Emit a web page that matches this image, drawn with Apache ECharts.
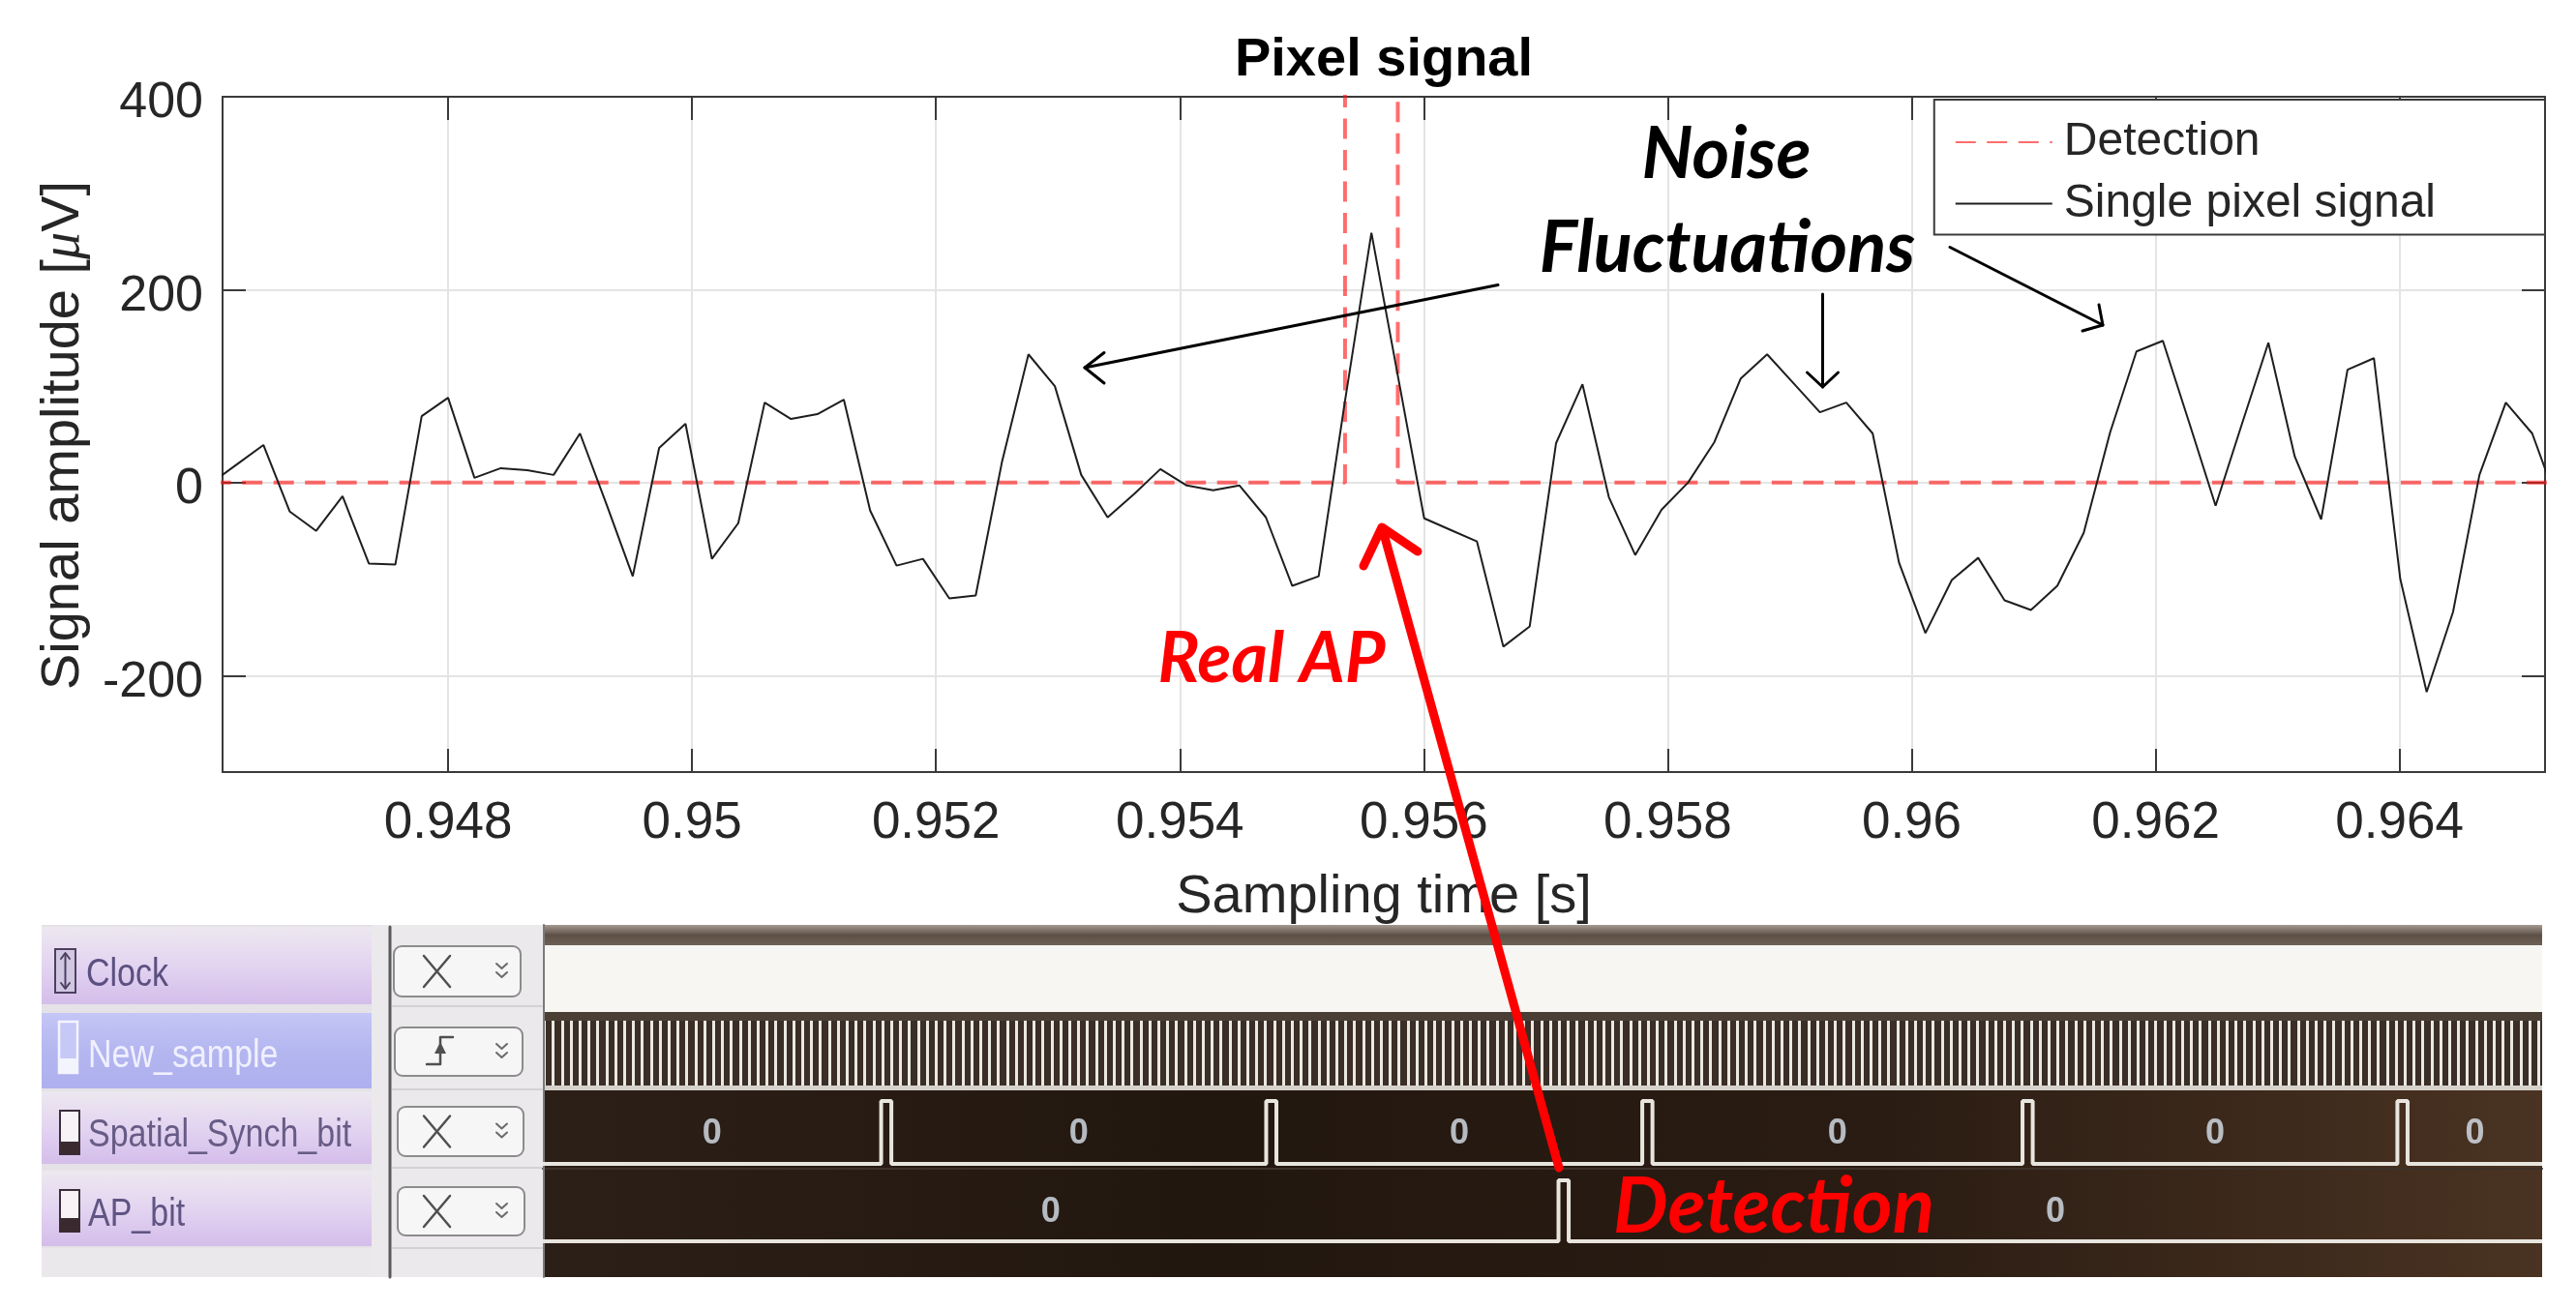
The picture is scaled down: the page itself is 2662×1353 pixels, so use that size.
<!DOCTYPE html>
<html><head><meta charset="utf-8">
<script src="https://cdn.jsdelivr.net/npm/echarts@6.0.0/dist/echarts.min.js"></script>
<style>html,body{margin:0;padding:0;background:#fff;overflow:hidden}#chart{width:2662px;height:1353px}</style>
</head><body><div id="chart"></div>
<script>
// ---------------- DATA ----------------
const xMin = 0.946151, xMax = 0.965193;   // visible sampling-time window [s]
const yMin = -300, yMax = 400;            // amplitude window [uV]
const sampleTimes = [
  0.9460533, 0.9462696, 0.9464859, 0.9467022, 0.9469185, 0.9471348, 0.9473511, 0.9475674, 0.9477837,
  0.948, 0.9482163, 0.9484326, 0.9486489, 0.9488652, 0.9490815, 0.9492978, 0.9495141, 0.9497304, 0.9499467,
  0.950163, 0.9503793, 0.9505956, 0.9508119, 0.9510282, 0.9512445, 0.9514608, 0.9516771, 0.9518934, 0.9521097,
  0.952326, 0.9525423, 0.9527586, 0.9529749, 0.9531912, 0.9534075, 0.9536238, 0.9538401, 0.9540564, 0.9542727,
  0.954489, 0.9547053, 0.9549216, 0.9551379, 0.9553542, 0.9555705, 0.9557868, 0.9560031, 0.9562194, 0.9564357,
  0.956652, 0.9568683, 0.9570846, 0.9573009, 0.9575172, 0.9577335, 0.9579498, 0.9581661, 0.9583824, 0.9585987,
  0.958815, 0.9590313, 0.9592476, 0.9594639, 0.9596802, 0.9598965, 0.9601128, 0.9603291, 0.9605454, 0.9607617,
  0.960978, 0.9611943, 0.9614106, 0.9616269, 0.9618432, 0.9620595, 0.9622758, 0.9624921, 0.9627084, 0.9629247,
  0.963141, 0.9633573, 0.9635736, 0.9637899, 0.9640062, 0.9642225, 0.9644388, 0.9646551, 0.9648714, 0.9650877, 0.965304
];
const pixelSignal = [
  -1, 19, 39, -30, -50, -14, -84, -85, 69,
  88, 5, 15, 13, 8, 51, -22, -97, 36, 61,
  -79, -42, 83, 66, 71, 86, -29, -86, -79, -120,
  -117, 22, 133, 100, 8, -36, -12, 14, -3, -8,
  -3, -36, -107, -97, 85, 259, 111, -37, -49, -61,
  -170, -149, 41, 102, -15, -75, -28, 0, 42, 108,
  133, 103, 73, 83, 51, -83, -156, -101, -78, -122,
  -132, -107, -52, 52, 136, 147, 62, -24, 61, 145,
  27, -38, 117, 129, -100, -217, -134, 8, 83, 51, -24
];
const detectionTimes = [0.9460533, 0.9553542, 0.9553542, 0.9557868, 0.9557868, 0.965304];
const detectionLevel = [0, 0, 1000, 1000, 0, 0];
const legendNames = ['Detection', 'Single pixel signal'];

// logic analyser capture (time in % of the displayed capture window)
const laWindow = [0, 100];
const synchPulseStarts = [16.92, 36.18, 54.99, 74.01, 92.76];
const apPulseStarts = [50.80];
const pulseWidth = 0.51;
const idleBit = '0';
const traceNames = ['Clock', 'New_sample', 'Spatial_Synch_bit', 'AP_bit'];

// ---------------- BUILD ----------------
const FONT = "'Liberation Sans', Arial, sans-serif";
const AX = '#3a3a3a';
const signalPairs = sampleTimes.map((t, i) => [t, pixelSignal[i]]);
const detectionPairs = detectionTimes.map((t, i) => [t, detectionLevel[i]]);

function pulseTrain(starts) {
  const pts = [[laWindow[0], 0]];
  starts.forEach(p => { pts.push([p, 0], [p, 1], [p + pulseWidth, 1], [p + pulseWidth, 0]); });
  pts.push([laWindow[1], 0]);
  return pts;
}
function bitLabels(starts) {
  const edges = [laWindow[0]];
  starts.forEach(p => edges.push(p, p + pulseWidth));
  edges.push(laWindow[1]);
  const out = [];
  for (let i = 0; i < edges.length; i += 2) out.push({ value: [(edges[i] + edges[i + 1]) / 2, 0.47], name: idleBit });
  return out;
}

const chart = echarts.init(document.getElementById('chart'));

// stripe texture for the dense New_sample strobe
const pc = document.createElement('canvas');
pc.width = 92; pc.height = 4;
const pctx = pc.getContext('2d');
pctx.fillStyle = '#3a2e26'; pctx.fillRect(0, 0, 92, 4);
pctx.fillStyle = '#ebe8e2';
for (let i = 0; i < 10; i++) pctx.fillRect(Math.round(i * 9.2), 0, 3, 4);

const lg = (stops, horiz) => new echarts.graphic.LinearGradient(0, 0, horiz ? 1 : 0, horiz ? 0 : 1,
  stops.map((c, i) => ({ offset: i / (stops.length - 1), color: c })));

const G = [];
function rect(x, y, w, h, fill, z, stroke, lw, r) {
  const st = { fill: fill };
  if (stroke) { st.stroke = stroke; st.lineWidth = lw || 1; }
  const sh = { x: x, y: y, width: w, height: h };
  if (r) sh.r = r;
  G.push({ type: 'rect', shape: sh, style: st, z: z == null ? 0 : z, silent: true });
}
function poly(points, stroke, lw, z) {
  G.push({ type: 'polyline', shape: { points: points }, style: { stroke: stroke, lineWidth: lw, fill: null, lineCap: 'round', lineJoin: 'round' }, z: z == null ? 1 : z, silent: true });
}
function text(x, y, str, opt) {
  const st = Object.assign({ text: str, fontFamily: FONT, fill: '#000', align: 'center', verticalAlign: 'middle', textAlign: 'center', textVerticalAlign: 'middle' }, opt.style || {});
  G.push({ type: 'text', x: x, y: y, rotation: opt.rotation || 0, scaleX: opt.scaleX || 1, style: st, z: opt.z == null ? 100 : opt.z, silent: true });
}

// ---- logic analyser panel backgrounds ----
const purple = () => lg(['#ece8ef', '#e3d4f1', '#d4bdea']);
rect(43, 956, 341, 364, '#e5e2e7');
rect(43, 958, 341, 80, purple());
rect(43, 1047, 341, 78, lg(['#c4c6f6', '#b4b6f0', '#aeb0ee']));
rect(43, 1128, 341, 75, purple());
rect(43, 1210, 341, 78, purple());
rect(43, 1290, 341, 30, '#ebe8ec');
rect(384, 956, 177, 364, '#ebe9ec');
poly([[403, 958], [403, 1320]], '#5a5a5a', 3, 1);
[1040, 1126, 1207, 1290].forEach(y => poly([[406, y], [560, y]], '#d3d1d5', 2, 1));
// buttons
const btns = [[407, 978, 131, 52], [408, 1062, 132, 50], [411, 1144, 130, 51], [411, 1227, 131, 50]];
btns.forEach(b => rect(b[0], b[1], b[2], b[3], '#f6f6f6', 1, '#8c8c8c', 2, 8));
[1004, 1169.5, 1252].forEach(cy => {
  poly([[438, cy - 16], [465, cy + 16]], '#505050', 2.5, 2);
  poly([[465, cy - 16], [438, cy + 16]], '#505050', 2.5, 2);
});
poly([[441, 1100], [455, 1100], [455, 1072], [468, 1072]], '#505050', 2.5, 2);
G.push({ type: 'polygon', shape: { points: [[455, 1077], [449, 1089], [461, 1089]] }, style: { fill: '#505050' }, z: 2, silent: true });
[1004, 1087, 1169.5, 1252].forEach(cy => {
  poly([[513, cy - 8], [518.5, cy - 3], [524, cy - 8]], '#6a6a6a', 2, 2);
  poly([[513, cy + 1], [518.5, cy + 6], [524, cy + 1]], '#6a6a6a', 2, 2);
});
// trace icons
rect(57, 981, 21, 45, '#d2c7e3', 1, '#4b4060', 2);
poly([[67.5, 986], [67.5, 1021]], '#4b4060', 2, 2);
poly([[63, 991], [67.5, 985], [72, 991]], '#4b4060', 2, 2);
poly([[63, 1016], [67.5, 1022], [72, 1016]], '#4b4060', 2, 2);
rect(61, 1056, 19, 53, '#c6c8f6', 1, '#f4f4ff', 2.5);
rect(61, 1094, 19, 15, '#f4f4ff', 1);
rect(62, 1148, 20, 45, '#f6f2f6', 1, '#3a2e3a', 2);
rect(62, 1180, 20, 13, '#3a2a30', 1);
rect(62, 1230, 20, 43, '#f6f2f6', 1, '#3a2e3a', 2);
rect(62, 1259, 20, 14, '#3a2a30', 1);
// trace names
const nameCols = ['#5b5080', '#f0f0ff', '#675c86', '#5f5582'];
const nameY = [1008, 1092, 1174, 1255.5];
traceNames.forEach((n, i) => text(89 + (i ? 2 : 0), nameY[i], n, {
  scaleX: 0.85, z: 3, style: { fontSize: 40, fill: nameCols[i], align: 'left', textAlign: 'left' }
}));
// waveform window
rect(561, 956, 2066, 21, lg(['#a59a90', '#5e5046', '#6e6054']));
rect(561, 977, 2066, 69, '#f7f6f3');
rect(561, 1046, 2066, 9, '#4a3e35');
rect(561, 1055, 2066, 67, { image: pc, repeat: 'repeat' });
rect(561, 1122, 2066, 5, '#d6d2cb');
rect(561, 1127, 2066, 193, lg(['#2c1f17', '#22170f', '#2a1c13', '#4a3322'], true));
poly([[561, 1208], [2627, 1208]], '#3e322a', 2, 1);
poly([[562, 956], [562, 1320]], '#7a7a7a', 2, 1);

// ---- plot texts and annotations ----
text(1430, 63, 'Pixel signal', { style: { fontSize: 56, fontWeight: 'bold', fill: '#000' } });
text(1430, 928, 'Sampling time [s]', { style: { fontSize: 56, fill: '#262626' } });
text(66, 450, '{a|Signal amplitude [}{b|\u03bc}{a|V]}', {
  rotation: Math.PI / 2,
  style: { fontSize: 56, fill: '#262626', rich: { a: { fontSize: 56, fontFamily: FONT, fill: '#262626' }, b: { fontSize: 56, fontStyle: 'italic', fontFamily: "'Liberation Serif', serif", fill: '#262626' } } }
});
const ANN = "Lato, 'Open Sans', sans-serif";
text(1784, 160, 'Noise', { style: { fontSize: 74, fontWeight: 'bold', fontStyle: 'italic', fontFamily: ANN, fill: '#000' } });
text(1785, 257, 'Fluctuations', { style: { fontSize: 74, fontWeight: 'bold', fontStyle: 'italic', fontFamily: ANN, fill: '#000' } });
text(1314, 682, 'Real AP', { style: { fontSize: 72, fontWeight: 'bold', fontStyle: 'italic', fontFamily: ANN, fill: '#ff0000' } });
text(1833, 1248, 'Detection', { style: { fontSize: 80, fontWeight: 'bold', fontStyle: 'italic', fontFamily: ANN, fill: '#ff0000' } });
// black arrows
poly([[1548, 294.5], [1121, 380]], '#000', 3, 100);
poly([[1141, 364.5], [1121, 380], [1141, 396]], '#000', 3, 100);
poly([[1883.5, 304], [1883.5, 400]], '#000', 3, 100);
poly([[1867.5, 385], [1883.5, 400], [1899.5, 385]], '#000', 3, 100);
poly([[2015, 255.5], [2173, 336]], '#000', 3, 100);
poly([[2169, 315], [2173, 336], [2152, 342]], '#000', 3, 100);
// red arrow
poly([[1611, 1207], [1429, 548]], '#ff0000', 9, 100);
poly([[1409, 585], [1428, 545], [1465, 570]], '#ff0000', 9, 100);

// ---------------- OPTION ----------------
const tickStyle = { color: AX, width: 2 };
const option = {
  backgroundColor: '#ffffff',
  animation: false,
  grid: [
    { left: 230, top: 100, width: 2400, height: 698, outerBoundsMode: 'none', containLabel: false },
    { left: 561, top: 1138, width: 2066, height: 65, outerBoundsMode: 'none', containLabel: false },
    { left: 561, top: 1220, width: 2066, height: 63, outerBoundsMode: 'none', containLabel: false }
  ],
  xAxis: [
    { type: 'value', gridIndex: 0, position: 'bottom', min: xMin, max: xMax, splitNumber: 10,
      axisLine: { show: true, onZero: false, lineStyle: tickStyle },
      axisTick: { show: true, inside: true, length: 24, lineStyle: tickStyle },
      axisLabel: { show: true, showMinLabel: false, showMaxLabel: false, margin: 27, fontSize: 53, color: '#262626', fontFamily: FONT },
      splitLine: { show: true, lineStyle: { color: '#e4e4e4', width: 2 } } },
    { type: 'value', gridIndex: 0, position: 'top', min: xMin, max: xMax, splitNumber: 10,
      axisLine: { show: true, onZero: false, lineStyle: tickStyle },
      axisTick: { show: true, inside: true, length: 24, lineStyle: tickStyle },
      axisLabel: { show: false }, splitLine: { show: false } },
    { type: 'value', gridIndex: 1, min: laWindow[0], max: laWindow[1], show: false },
    { type: 'value', gridIndex: 2, min: laWindow[0], max: laWindow[1], show: false }
  ],
  yAxis: [
    { type: 'value', gridIndex: 0, position: 'left', min: yMin, max: yMax, splitNumber: 4,
      axisLine: { show: true, onZero: false, lineStyle: tickStyle },
      axisTick: { show: true, inside: true, length: 24, lineStyle: tickStyle },
      axisLabel: { show: true, showMinLabel: false, margin: 20, color: '#262626',
        formatter: v => '{v|' + v + '}',
        rich: { v: { fontSize: 52, color: '#262626', fontFamily: FONT, padding: [14, 0, 0, 0] } } },
      splitLine: { show: true, lineStyle: { color: '#e4e4e4', width: 2 } } },
    { type: 'value', gridIndex: 0, position: 'right', min: yMin, max: yMax, splitNumber: 4,
      axisLine: { show: true, onZero: false, lineStyle: tickStyle },
      axisTick: { show: true, inside: true, length: 24, lineStyle: tickStyle },
      axisLabel: { show: false }, splitLine: { show: false } },
    { type: 'value', gridIndex: 1, min: 0, max: 1, show: false },
    { type: 'value', gridIndex: 2, min: 0, max: 1, show: false }
  ],
  legend: {
    data: legendNames, orient: 'vertical', right: 32, top: 103,
    itemWidth: 100, itemHeight: 20, itemGap: 13.5, padding: [19, 113, 7, 21],
    backgroundColor: '#ffffff', borderColor: AX, borderWidth: 2, borderRadius: 0,
    selectedMode: false, itemStyle: { opacity: 0 },
    textStyle: { fontSize: 48, color: '#262626', fontFamily: FONT, lineHeight: 50, padding: [0, 0, 0, 7] }
  },
  graphic: { elements: G },
  series: [
    { name: 'Detection', type: 'line', xAxisIndex: 0, yAxisIndex: 0, data: detectionPairs, symbol: 'none', clip: true, z: 2,
      lineStyle: { color: 'rgba(255,20,20,0.62)', width: 4, type: [21, 11.5] } },
    { name: 'Single pixel signal', type: 'line', xAxisIndex: 0, yAxisIndex: 0, data: signalPairs, symbol: 'none', clip: true, z: 3,
      lineStyle: { color: '#1e1e1e', width: 2 } },
    { name: 'Spatial_Synch_bit', type: 'line', xAxisIndex: 2, yAxisIndex: 2, data: pulseTrain(synchPulseStarts), symbol: 'none', clip: false, z: 5,
      lineStyle: { color: '#e8e5df', width: 4 } },
    { name: 'AP_bit', type: 'line', xAxisIndex: 3, yAxisIndex: 3, data: pulseTrain(apPulseStarts), symbol: 'none', clip: false, z: 5,
      lineStyle: { color: '#e8e5df', width: 4 } },
    { name: 'Spatial_Synch_bit value', type: 'scatter', xAxisIndex: 2, yAxisIndex: 2, data: bitLabels(synchPulseStarts), symbolSize: 1, z: 6,
      itemStyle: { color: 'transparent' },
      label: { show: true, position: 'inside', formatter: p => p.name, fontSize: 36, fontWeight: 'bold', color: '#d9e4ee', fontFamily: FONT } },
    { name: 'AP_bit value', type: 'scatter', xAxisIndex: 3, yAxisIndex: 3, data: bitLabels(apPulseStarts), symbolSize: 1, z: 6,
      itemStyle: { color: 'transparent' },
      label: { show: true, position: 'inside', formatter: p => p.name, fontSize: 36, fontWeight: 'bold', color: '#d9e4ee', fontFamily: FONT } }
  ]
};
chart.setOption(option);
</script></body></html>
